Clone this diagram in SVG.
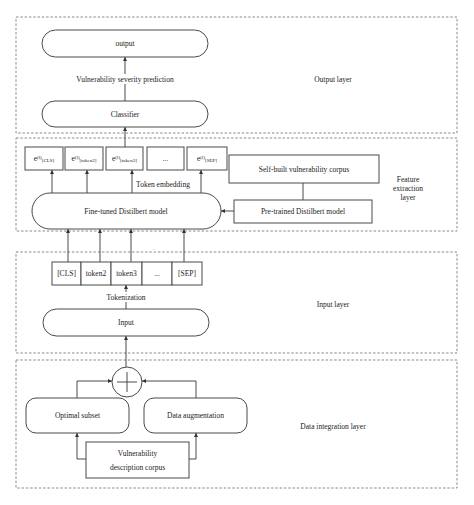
<svg xmlns="http://www.w3.org/2000/svg" width="474" height="505" viewBox="0 0 474 505">
<style>
text{font-family:"Liberation Serif","Times New Roman",serif;font-size:7.5px;fill:#1a1a1a;text-anchor:middle;dominant-baseline:central}
.layer{fill:none;stroke:#8a8a8a;stroke-width:1;stroke-dasharray:2.5 1.8}
.n{fill:#fff;stroke:#4a4a4a;stroke-width:1}
.c{fill:none;stroke:#4a4a4a;stroke-width:1}
.a{fill:none;stroke:#4a4a4a;stroke-width:1;marker-end:url(#ah)}
.sm{font-size:5px}
</style>
<defs>
<marker id="ah" viewBox="0 0 6 6" refX="6" refY="3" markerWidth="4" markerHeight="4" orient="auto" markerUnits="userSpaceOnUse">
<path d="M0,0 L6,3 L0,6 z" fill="#333"/>
</marker>
</defs>
<rect width="474" height="505" fill="#fff"/>

<g id="layers">
<rect class="layer" x="16" y="17" width="441" height="116"/>
<rect class="layer" x="16" y="138" width="441" height="93"/>
<rect class="layer" x="16" y="252" width="441" height="101"/>
<rect class="layer" x="16" y="360" width="441" height="128"/>
<text x="333" y="79">Output layer</text>
<text x="408" y="179">Feature</text>
<text x="408" y="188">extraction</text>
<text x="408" y="197">layer</text>
<text x="333" y="304">Input layer</text>
<text x="333" y="426">Data integration layer</text>
</g>

<g id="connectors">
<line class="c" x1="125" y1="101" x2="125" y2="84"/>
<line class="a" x1="125" y1="74" x2="125" y2="57"/>
<line class="a" x1="125" y1="147" x2="125" y2="127"/>
<line class="a" x1="52" y1="193" x2="52" y2="170"/>
<line class="a" x1="87" y1="193" x2="87" y2="170"/>
<line class="a" x1="132" y1="193" x2="132" y2="170"/>
<line class="a" x1="201" y1="193" x2="201" y2="170"/>
<line class="c" x1="303" y1="183" x2="303" y2="200"/>
<line class="a" x1="234" y1="211" x2="221" y2="211"/>
<line class="a" x1="68" y1="262" x2="68" y2="229"/>
<line class="a" x1="100" y1="262" x2="100" y2="229"/>
<line class="a" x1="131" y1="262" x2="131" y2="229"/>
<line class="a" x1="184" y1="262" x2="184" y2="229"/>
<line class="c" x1="126" y1="309" x2="126" y2="302"/>
<line class="a" x1="126" y1="292" x2="126" y2="285"/>
<line class="a" x1="126" y1="367" x2="126" y2="336"/>
<polyline class="a" points="77,398 77,381 112,381"/>
<polyline class="a" points="196,398 196,381 142,381"/>
<polyline class="a" points="86,459 77,459 77,433"/>
<polyline class="a" points="189,459 196,459 196,433"/>
<text x="125" y="79">Vulnerability severity prediction</text>
<text x="163" y="184">Token embedding</text>
<text x="126" y="297">Tokenization</text>
<text x="153" y="248" class="sm" style="fill:#999">...</text>
</g>

<g id="output">
<rect class="n" x="42" y="30" width="166" height="27" rx="13.5"/>
<text x="125" y="43.5">output</text>
</g>
<g id="classifier">
<rect class="n" x="42" y="101" width="166" height="26" rx="13"/>
<text x="125" y="114">Classifier</text>
</g>

<g id="e-cls">
<rect class="n" x="25" y="147" width="38" height="23"/>
<text x="44" y="158.5">e<tspan class="sm" dy="-2">(l)</tspan><tspan class="sm" dy="3.5">[CLS]</tspan></text>
</g>
<g id="e-token2">
<rect class="n" x="65" y="147" width="38" height="23"/>
<text x="84" y="158.5">e<tspan class="sm" dy="-2">(l)</tspan><tspan class="sm" dy="3.5">[token2]</tspan></text>
</g>
<g id="e-token3">
<rect class="n" x="106" y="147" width="37" height="23"/>
<text x="124.5" y="158.5">e<tspan class="sm" dy="-2">(l)</tspan><tspan class="sm" dy="3.5">[token3]</tspan></text>
</g>
<g id="e-dots">
<rect class="n" x="147" y="147" width="37" height="23"/>
<text x="165.5" y="158.5">...</text>
</g>
<g id="e-sep">
<rect class="n" x="187" y="147" width="40" height="23"/>
<text x="207" y="158.5">e<tspan class="sm" dy="-2">(l)</tspan><tspan class="sm" dy="3.5">[SEP]</tspan></text>
</g>
<g id="corpus">
<rect class="n" x="229" y="155" width="150" height="28"/>
<text x="304" y="169">Self-built vulnerability corpus</text>
</g>
<g id="finetuned">
<rect class="n" x="32" y="193" width="189" height="36" rx="18"/>
<text x="126" y="211">Fine-tuned Distilbert model</text>
</g>
<g id="pretrained">
<rect class="n" x="234" y="200" width="138" height="23"/>
<text x="303" y="211.5">Pre-trained Distilbert model</text>
</g>

<g id="tokens">
<rect class="n" x="52" y="262" width="29" height="23"/>
<text x="66.5" y="273.5">[CLS]</text>
<rect class="n" x="81" y="262" width="30" height="23"/>
<text x="96" y="273.5">token2</text>
<rect class="n" x="111" y="262" width="31" height="23"/>
<text x="126.5" y="273.5">token3</text>
<rect class="n" x="142" y="262" width="30" height="23"/>
<text x="157" y="273.5">...</text>
<rect class="n" x="172" y="262" width="30" height="23"/>
<text x="187" y="273.5">[SEP]</text>
</g>
<g id="input">
<rect class="n" x="43" y="309" width="166" height="27" rx="13.5"/>
<text x="126" y="322.5">Input</text>
</g>

<g id="plus">
<circle class="n" cx="127" cy="382" r="15"/>
<line class="c" x1="117" y1="382" x2="137" y2="382"/>
<line class="c" x1="127" y1="372" x2="127" y2="392"/>
</g>
<g id="optimal">
<rect class="n" x="26" y="398" width="103" height="35" rx="10"/>
<text x="77.5" y="415.5">Optimal subset</text>
</g>
<g id="augmentation">
<rect class="n" x="144" y="398" width="103" height="35" rx="10"/>
<text x="195.5" y="415.5">Data augmentation</text>
</g>
<g id="vdc">
<rect class="n" x="86" y="442" width="103" height="36"/>
<text x="137.5" y="453">Vulnerability</text>
<text x="137.5" y="467">description corpus</text>
</g>
</svg>
